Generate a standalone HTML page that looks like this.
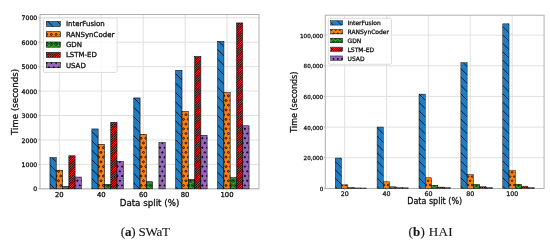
<!DOCTYPE html>
<html lang="en"><head><meta charset="utf-8"><title>Figure</title>
<style>html,body{margin:0;padding:0;background:#fff;overflow:hidden}svg{display:block}</style></head>
<body>
<svg width="550" height="244" viewBox="0 0 550 244">
<rect width="550" height="244" fill="#fff"/>
<defs><linearGradient id="gra" gradientUnits="userSpaceOnUse" spreadMethod="repeat" x1="4.2" y1="6.1" x2="5.3800" y2="7.2800"><stop offset="0.0000" stop-color="#180303"/><stop offset="0.0625" stop-color="#210404"/><stop offset="0.1250" stop-color="#3b0707"/><stop offset="0.1875" stop-color="#610b0b"/><stop offset="0.2500" stop-color="#8e1010"/><stop offset="0.3125" stop-color="#ba1515"/><stop offset="0.3750" stop-color="#e01a1a"/><stop offset="0.4375" stop-color="#f41c1c"/><stop offset="0.5000" stop-color="#f41c1c"/><stop offset="0.5625" stop-color="#f41c1c"/><stop offset="0.6250" stop-color="#e01a1a"/><stop offset="0.6875" stop-color="#ba1515"/><stop offset="0.7500" stop-color="#8e1010"/><stop offset="0.8125" stop-color="#610b0b"/><stop offset="0.8750" stop-color="#3b0707"/><stop offset="0.9375" stop-color="#210404"/><stop offset="1.0000" stop-color="#180303"/></linearGradient></defs>
<g font-family="'DejaVu Sans', 'Liberation Sans', sans-serif" fill="#111" stroke="#111" stroke-width="0.3">
<path d="M59.39,14.5V188.8M101.3,14.5V188.8M143.21,14.5V188.8M185.13,14.5V188.8M227.04,14.5V188.8M40,188.8H259M40,164.37H259M40,139.94H259M40,115.51H259M40,91.08H259M40,66.65H259M40,42.22H259M40,17.79H259" stroke="#dcdcdc" stroke-width="0.9" fill="none"/>
<rect x="40" y="14.5" width="219" height="174.3" fill="none" stroke="#b0b0b0" stroke-width="1"/>
<clipPath id="caIF4"><rect x="49.95" y="157.65" width="6.29" height="31.15"/><rect x="91.87" y="128.95" width="6.29" height="59.85"/><rect x="133.78" y="97.92" width="6.29" height="90.88"/><rect x="175.7" y="70.31" width="6.29" height="118.49"/><rect x="217.61" y="41.49" width="6.29" height="147.31"/></clipPath><g clip-path="url(#caIF4)"><rect x="49.95" y="157.65" width="6.29" height="31.15" fill="#1f7dc4" stroke="none"/><rect x="91.87" y="128.95" width="6.29" height="59.85" fill="#1f7dc4" stroke="none"/><rect x="133.78" y="97.92" width="6.29" height="90.88" fill="#1f7dc4" stroke="none"/><rect x="175.7" y="70.31" width="6.29" height="118.49" fill="#1f7dc4" stroke="none"/><rect x="217.61" y="41.49" width="6.29" height="147.31" fill="#1f7dc4" stroke="none"/><path d="M48.95,154.69L57.24,162.98M48.95,164.13L57.24,172.42M48.95,173.57L57.24,181.86M48.95,183.01L57.24,191.3M90.87,121.09L99.16,129.38M90.87,130.53L99.16,138.82M90.87,139.97L99.16,148.26M90.87,149.41L99.16,157.7M90.87,158.85L99.16,167.14M90.87,168.29L99.16,176.58M90.87,177.73L99.16,186.02M90.87,187.17L99.16,195.46M132.78,96.92L141.07,105.21M132.78,106.36L141.07,114.65M132.78,115.8L141.07,124.09M132.78,125.24L141.07,133.53M132.78,134.68L141.07,142.97M132.78,144.12L141.07,152.41M132.78,153.56L141.07,161.85M132.78,163L141.07,171.29M132.78,172.44L141.07,180.73M132.78,181.88L141.07,190.17M174.7,63.32L182.98,71.6M174.7,72.76L182.98,81.04M174.7,82.2L182.98,90.48M174.7,91.64L182.98,99.92M174.7,101.08L182.98,109.36M174.7,110.52L182.98,118.8M174.7,119.96L182.98,128.24M174.7,129.4L182.98,137.68M174.7,138.84L182.98,147.12M174.7,148.28L182.98,156.56M174.7,157.72L182.98,166M174.7,167.16L182.98,175.44M174.7,176.6L182.98,184.88M174.7,186.04L182.98,194.32M216.61,39.15L224.9,47.44M216.61,48.59L224.9,56.88M216.61,58.03L224.9,66.32M216.61,67.47L224.9,75.76M216.61,76.91L224.9,85.2M216.61,86.35L224.9,94.64M216.61,95.79L224.9,104.08M216.61,105.23L224.9,113.52M216.61,114.67L224.9,122.96M216.61,124.11L224.9,132.4M216.61,133.55L224.9,141.84M216.61,142.99L224.9,151.28M216.61,152.43L224.9,160.72M216.61,161.87L224.9,170.16M216.61,171.31L224.9,179.6M216.61,180.75L224.9,189.04" stroke="#000" stroke-width="0.85" fill="none"/></g><rect x="49.95" y="157.65" width="6.29" height="31.15" fill="none" stroke="#000" stroke-width="0.6"/><rect x="91.87" y="128.95" width="6.29" height="59.85" fill="none" stroke="#000" stroke-width="0.6"/><rect x="133.78" y="97.92" width="6.29" height="90.88" fill="none" stroke="#000" stroke-width="0.6"/><rect x="175.7" y="70.31" width="6.29" height="118.49" fill="none" stroke="#000" stroke-width="0.6"/><rect x="217.61" y="41.49" width="6.29" height="147.31" fill="none" stroke="#000" stroke-width="0.6"/>
<clipPath id="caRAN5"><rect x="56.24" y="170.23" width="6.29" height="18.57"/><rect x="98.16" y="144.34" width="6.29" height="44.46"/><rect x="140.07" y="134.32" width="6.29" height="54.48"/><rect x="181.98" y="111.6" width="6.29" height="77.2"/><rect x="223.9" y="92.69" width="6.29" height="96.11"/></clipPath><g clip-path="url(#caRAN5)"><rect x="56.24" y="170.23" width="6.29" height="18.57" fill="#ff7f0e" stroke="none"/><rect x="98.16" y="144.34" width="6.29" height="44.46" fill="#ff7f0e" stroke="none"/><rect x="140.07" y="134.32" width="6.29" height="54.48" fill="#ff7f0e" stroke="none"/><rect x="181.98" y="111.6" width="6.29" height="77.2" fill="#ff7f0e" stroke="none"/><rect x="223.9" y="92.69" width="6.29" height="96.11" fill="#ff7f0e" stroke="none"/><g stroke="#000"><circle cx="53.76" cy="171.3" r="0.94" fill="none" stroke-width="0.85"/><circle cx="58.48" cy="171.3" r="0.94" fill="none" stroke-width="0.85"/><circle cx="63.2" cy="171.3" r="0.94" fill="none" stroke-width="0.85"/><circle cx="56.12" cy="176.02" r="0.94" fill="none" stroke-width="0.85"/><circle cx="60.84" cy="176.02" r="0.94" fill="none" stroke-width="0.85"/><circle cx="53.76" cy="180.74" r="0.94" fill="none" stroke-width="0.85"/><circle cx="58.48" cy="180.74" r="0.94" fill="none" stroke-width="0.85"/><circle cx="63.2" cy="180.74" r="0.94" fill="none" stroke-width="0.85"/><circle cx="56.12" cy="185.46" r="0.94" fill="none" stroke-width="0.85"/><circle cx="60.84" cy="185.46" r="0.94" fill="none" stroke-width="0.85"/><circle cx="53.76" cy="190.18" r="0.94" fill="none" stroke-width="0.85"/><circle cx="58.48" cy="190.18" r="0.94" fill="none" stroke-width="0.85"/><circle cx="63.2" cy="190.18" r="0.94" fill="none" stroke-width="0.85"/><circle cx="96.24" cy="142.98" r="0.94" fill="none" stroke-width="0.85"/><circle cx="100.96" cy="142.98" r="0.94" fill="none" stroke-width="0.85"/><circle cx="105.68" cy="142.98" r="0.94" fill="none" stroke-width="0.85"/><circle cx="98.6" cy="147.7" r="0.94" fill="none" stroke-width="0.85"/><circle cx="103.32" cy="147.7" r="0.94" fill="none" stroke-width="0.85"/><circle cx="96.24" cy="152.42" r="0.94" fill="none" stroke-width="0.85"/><circle cx="100.96" cy="152.42" r="0.94" fill="none" stroke-width="0.85"/><circle cx="105.68" cy="152.42" r="0.94" fill="none" stroke-width="0.85"/><circle cx="98.6" cy="157.14" r="0.94" fill="none" stroke-width="0.85"/><circle cx="103.32" cy="157.14" r="0.94" fill="none" stroke-width="0.85"/><circle cx="96.24" cy="161.86" r="0.94" fill="none" stroke-width="0.85"/><circle cx="100.96" cy="161.86" r="0.94" fill="none" stroke-width="0.85"/><circle cx="105.68" cy="161.86" r="0.94" fill="none" stroke-width="0.85"/><circle cx="98.6" cy="166.58" r="0.94" fill="none" stroke-width="0.85"/><circle cx="103.32" cy="166.58" r="0.94" fill="none" stroke-width="0.85"/><circle cx="96.24" cy="171.3" r="0.94" fill="none" stroke-width="0.85"/><circle cx="100.96" cy="171.3" r="0.94" fill="none" stroke-width="0.85"/><circle cx="105.68" cy="171.3" r="0.94" fill="none" stroke-width="0.85"/><circle cx="98.6" cy="176.02" r="0.94" fill="none" stroke-width="0.85"/><circle cx="103.32" cy="176.02" r="0.94" fill="none" stroke-width="0.85"/><circle cx="96.24" cy="180.74" r="0.94" fill="none" stroke-width="0.85"/><circle cx="100.96" cy="180.74" r="0.94" fill="none" stroke-width="0.85"/><circle cx="105.68" cy="180.74" r="0.94" fill="none" stroke-width="0.85"/><circle cx="98.6" cy="185.46" r="0.94" fill="none" stroke-width="0.85"/><circle cx="103.32" cy="185.46" r="0.94" fill="none" stroke-width="0.85"/><circle cx="96.24" cy="190.18" r="0.94" fill="none" stroke-width="0.85"/><circle cx="100.96" cy="190.18" r="0.94" fill="none" stroke-width="0.85"/><circle cx="105.68" cy="190.18" r="0.94" fill="none" stroke-width="0.85"/><circle cx="138.72" cy="133.54" r="0.94" fill="none" stroke-width="0.85"/><circle cx="143.44" cy="133.54" r="0.94" fill="none" stroke-width="0.85"/><circle cx="148.16" cy="133.54" r="0.94" fill="none" stroke-width="0.85"/><circle cx="141.08" cy="138.26" r="0.94" fill="none" stroke-width="0.85"/><circle cx="145.8" cy="138.26" r="0.94" fill="none" stroke-width="0.85"/><circle cx="138.72" cy="142.98" r="0.94" fill="none" stroke-width="0.85"/><circle cx="143.44" cy="142.98" r="0.94" fill="none" stroke-width="0.85"/><circle cx="148.16" cy="142.98" r="0.94" fill="none" stroke-width="0.85"/><circle cx="141.08" cy="147.7" r="0.94" fill="none" stroke-width="0.85"/><circle cx="145.8" cy="147.7" r="0.94" fill="none" stroke-width="0.85"/><circle cx="138.72" cy="152.42" r="0.94" fill="none" stroke-width="0.85"/><circle cx="143.44" cy="152.42" r="0.94" fill="none" stroke-width="0.85"/><circle cx="148.16" cy="152.42" r="0.94" fill="none" stroke-width="0.85"/><circle cx="141.08" cy="157.14" r="0.94" fill="none" stroke-width="0.85"/><circle cx="145.8" cy="157.14" r="0.94" fill="none" stroke-width="0.85"/><circle cx="138.72" cy="161.86" r="0.94" fill="none" stroke-width="0.85"/><circle cx="143.44" cy="161.86" r="0.94" fill="none" stroke-width="0.85"/><circle cx="148.16" cy="161.86" r="0.94" fill="none" stroke-width="0.85"/><circle cx="141.08" cy="166.58" r="0.94" fill="none" stroke-width="0.85"/><circle cx="145.8" cy="166.58" r="0.94" fill="none" stroke-width="0.85"/><circle cx="138.72" cy="171.3" r="0.94" fill="none" stroke-width="0.85"/><circle cx="143.44" cy="171.3" r="0.94" fill="none" stroke-width="0.85"/><circle cx="148.16" cy="171.3" r="0.94" fill="none" stroke-width="0.85"/><circle cx="141.08" cy="176.02" r="0.94" fill="none" stroke-width="0.85"/><circle cx="145.8" cy="176.02" r="0.94" fill="none" stroke-width="0.85"/><circle cx="138.72" cy="180.74" r="0.94" fill="none" stroke-width="0.85"/><circle cx="143.44" cy="180.74" r="0.94" fill="none" stroke-width="0.85"/><circle cx="148.16" cy="180.74" r="0.94" fill="none" stroke-width="0.85"/><circle cx="141.08" cy="185.46" r="0.94" fill="none" stroke-width="0.85"/><circle cx="145.8" cy="185.46" r="0.94" fill="none" stroke-width="0.85"/><circle cx="138.72" cy="190.18" r="0.94" fill="none" stroke-width="0.85"/><circle cx="143.44" cy="190.18" r="0.94" fill="none" stroke-width="0.85"/><circle cx="148.16" cy="190.18" r="0.94" fill="none" stroke-width="0.85"/><circle cx="183.56" cy="109.94" r="0.94" fill="none" stroke-width="0.85"/><circle cx="188.28" cy="109.94" r="0.94" fill="none" stroke-width="0.85"/><circle cx="181.2" cy="114.66" r="0.94" fill="none" stroke-width="0.85"/><circle cx="185.92" cy="114.66" r="0.94" fill="none" stroke-width="0.85"/><circle cx="190.64" cy="114.66" r="0.94" fill="none" stroke-width="0.85"/><circle cx="183.56" cy="119.38" r="0.94" fill="none" stroke-width="0.85"/><circle cx="188.28" cy="119.38" r="0.94" fill="none" stroke-width="0.85"/><circle cx="181.2" cy="124.1" r="0.94" fill="none" stroke-width="0.85"/><circle cx="185.92" cy="124.1" r="0.94" fill="none" stroke-width="0.85"/><circle cx="190.64" cy="124.1" r="0.94" fill="none" stroke-width="0.85"/><circle cx="183.56" cy="128.82" r="0.94" fill="none" stroke-width="0.85"/><circle cx="188.28" cy="128.82" r="0.94" fill="none" stroke-width="0.85"/><circle cx="181.2" cy="133.54" r="0.94" fill="none" stroke-width="0.85"/><circle cx="185.92" cy="133.54" r="0.94" fill="none" stroke-width="0.85"/><circle cx="190.64" cy="133.54" r="0.94" fill="none" stroke-width="0.85"/><circle cx="183.56" cy="138.26" r="0.94" fill="none" stroke-width="0.85"/><circle cx="188.28" cy="138.26" r="0.94" fill="none" stroke-width="0.85"/><circle cx="181.2" cy="142.98" r="0.94" fill="none" stroke-width="0.85"/><circle cx="185.92" cy="142.98" r="0.94" fill="none" stroke-width="0.85"/><circle cx="190.64" cy="142.98" r="0.94" fill="none" stroke-width="0.85"/><circle cx="183.56" cy="147.7" r="0.94" fill="none" stroke-width="0.85"/><circle cx="188.28" cy="147.7" r="0.94" fill="none" stroke-width="0.85"/><circle cx="181.2" cy="152.42" r="0.94" fill="none" stroke-width="0.85"/><circle cx="185.92" cy="152.42" r="0.94" fill="none" stroke-width="0.85"/><circle cx="190.64" cy="152.42" r="0.94" fill="none" stroke-width="0.85"/><circle cx="183.56" cy="157.14" r="0.94" fill="none" stroke-width="0.85"/><circle cx="188.28" cy="157.14" r="0.94" fill="none" stroke-width="0.85"/><circle cx="181.2" cy="161.86" r="0.94" fill="none" stroke-width="0.85"/><circle cx="185.92" cy="161.86" r="0.94" fill="none" stroke-width="0.85"/><circle cx="190.64" cy="161.86" r="0.94" fill="none" stroke-width="0.85"/><circle cx="183.56" cy="166.58" r="0.94" fill="none" stroke-width="0.85"/><circle cx="188.28" cy="166.58" r="0.94" fill="none" stroke-width="0.85"/><circle cx="181.2" cy="171.3" r="0.94" fill="none" stroke-width="0.85"/><circle cx="185.92" cy="171.3" r="0.94" fill="none" stroke-width="0.85"/><circle cx="190.64" cy="171.3" r="0.94" fill="none" stroke-width="0.85"/><circle cx="183.56" cy="176.02" r="0.94" fill="none" stroke-width="0.85"/><circle cx="188.28" cy="176.02" r="0.94" fill="none" stroke-width="0.85"/><circle cx="181.2" cy="180.74" r="0.94" fill="none" stroke-width="0.85"/><circle cx="185.92" cy="180.74" r="0.94" fill="none" stroke-width="0.85"/><circle cx="190.64" cy="180.74" r="0.94" fill="none" stroke-width="0.85"/><circle cx="183.56" cy="185.46" r="0.94" fill="none" stroke-width="0.85"/><circle cx="188.28" cy="185.46" r="0.94" fill="none" stroke-width="0.85"/><circle cx="181.2" cy="190.18" r="0.94" fill="none" stroke-width="0.85"/><circle cx="185.92" cy="190.18" r="0.94" fill="none" stroke-width="0.85"/><circle cx="190.64" cy="190.18" r="0.94" fill="none" stroke-width="0.85"/><circle cx="221.32" cy="91.06" r="0.94" fill="none" stroke-width="0.85"/><circle cx="226.04" cy="91.06" r="0.94" fill="none" stroke-width="0.85"/><circle cx="230.76" cy="91.06" r="0.94" fill="none" stroke-width="0.85"/><circle cx="223.68" cy="95.78" r="0.94" fill="none" stroke-width="0.85"/><circle cx="228.4" cy="95.78" r="0.94" fill="none" stroke-width="0.85"/><circle cx="221.32" cy="100.5" r="0.94" fill="none" stroke-width="0.85"/><circle cx="226.04" cy="100.5" r="0.94" fill="none" stroke-width="0.85"/><circle cx="230.76" cy="100.5" r="0.94" fill="none" stroke-width="0.85"/><circle cx="223.68" cy="105.22" r="0.94" fill="none" stroke-width="0.85"/><circle cx="228.4" cy="105.22" r="0.94" fill="none" stroke-width="0.85"/><circle cx="221.32" cy="109.94" r="0.94" fill="none" stroke-width="0.85"/><circle cx="226.04" cy="109.94" r="0.94" fill="none" stroke-width="0.85"/><circle cx="230.76" cy="109.94" r="0.94" fill="none" stroke-width="0.85"/><circle cx="223.68" cy="114.66" r="0.94" fill="none" stroke-width="0.85"/><circle cx="228.4" cy="114.66" r="0.94" fill="none" stroke-width="0.85"/><circle cx="221.32" cy="119.38" r="0.94" fill="none" stroke-width="0.85"/><circle cx="226.04" cy="119.38" r="0.94" fill="none" stroke-width="0.85"/><circle cx="230.76" cy="119.38" r="0.94" fill="none" stroke-width="0.85"/><circle cx="223.68" cy="124.1" r="0.94" fill="none" stroke-width="0.85"/><circle cx="228.4" cy="124.1" r="0.94" fill="none" stroke-width="0.85"/><circle cx="221.32" cy="128.82" r="0.94" fill="none" stroke-width="0.85"/><circle cx="226.04" cy="128.82" r="0.94" fill="none" stroke-width="0.85"/><circle cx="230.76" cy="128.82" r="0.94" fill="none" stroke-width="0.85"/><circle cx="223.68" cy="133.54" r="0.94" fill="none" stroke-width="0.85"/><circle cx="228.4" cy="133.54" r="0.94" fill="none" stroke-width="0.85"/><circle cx="221.32" cy="138.26" r="0.94" fill="none" stroke-width="0.85"/><circle cx="226.04" cy="138.26" r="0.94" fill="none" stroke-width="0.85"/><circle cx="230.76" cy="138.26" r="0.94" fill="none" stroke-width="0.85"/><circle cx="223.68" cy="142.98" r="0.94" fill="none" stroke-width="0.85"/><circle cx="228.4" cy="142.98" r="0.94" fill="none" stroke-width="0.85"/><circle cx="221.32" cy="147.7" r="0.94" fill="none" stroke-width="0.85"/><circle cx="226.04" cy="147.7" r="0.94" fill="none" stroke-width="0.85"/><circle cx="230.76" cy="147.7" r="0.94" fill="none" stroke-width="0.85"/><circle cx="223.68" cy="152.42" r="0.94" fill="none" stroke-width="0.85"/><circle cx="228.4" cy="152.42" r="0.94" fill="none" stroke-width="0.85"/><circle cx="221.32" cy="157.14" r="0.94" fill="none" stroke-width="0.85"/><circle cx="226.04" cy="157.14" r="0.94" fill="none" stroke-width="0.85"/><circle cx="230.76" cy="157.14" r="0.94" fill="none" stroke-width="0.85"/><circle cx="223.68" cy="161.86" r="0.94" fill="none" stroke-width="0.85"/><circle cx="228.4" cy="161.86" r="0.94" fill="none" stroke-width="0.85"/><circle cx="221.32" cy="166.58" r="0.94" fill="none" stroke-width="0.85"/><circle cx="226.04" cy="166.58" r="0.94" fill="none" stroke-width="0.85"/><circle cx="230.76" cy="166.58" r="0.94" fill="none" stroke-width="0.85"/><circle cx="223.68" cy="171.3" r="0.94" fill="none" stroke-width="0.85"/><circle cx="228.4" cy="171.3" r="0.94" fill="none" stroke-width="0.85"/><circle cx="221.32" cy="176.02" r="0.94" fill="none" stroke-width="0.85"/><circle cx="226.04" cy="176.02" r="0.94" fill="none" stroke-width="0.85"/><circle cx="230.76" cy="176.02" r="0.94" fill="none" stroke-width="0.85"/><circle cx="223.68" cy="180.74" r="0.94" fill="none" stroke-width="0.85"/><circle cx="228.4" cy="180.74" r="0.94" fill="none" stroke-width="0.85"/><circle cx="221.32" cy="185.46" r="0.94" fill="none" stroke-width="0.85"/><circle cx="226.04" cy="185.46" r="0.94" fill="none" stroke-width="0.85"/><circle cx="230.76" cy="185.46" r="0.94" fill="none" stroke-width="0.85"/><circle cx="223.68" cy="190.18" r="0.94" fill="none" stroke-width="0.85"/><circle cx="228.4" cy="190.18" r="0.94" fill="none" stroke-width="0.85"/></g></g><rect x="56.24" y="170.23" width="6.29" height="18.57" fill="none" stroke="#000" stroke-width="0.6"/><rect x="98.16" y="144.34" width="6.29" height="44.46" fill="none" stroke="#000" stroke-width="0.6"/><rect x="140.07" y="134.32" width="6.29" height="54.48" fill="none" stroke="#000" stroke-width="0.6"/><rect x="181.98" y="111.6" width="6.29" height="77.2" fill="none" stroke="#000" stroke-width="0.6"/><rect x="223.9" y="92.69" width="6.29" height="96.11" fill="none" stroke="#000" stroke-width="0.6"/>
<clipPath id="caGDN6"><rect x="62.53" y="186.6" width="6.29" height="2.2"/><rect x="104.44" y="184.4" width="6.29" height="4.4"/><rect x="146.36" y="181.72" width="6.29" height="7.08"/><rect x="188.27" y="179.52" width="6.29" height="9.28"/><rect x="230.18" y="177.68" width="6.29" height="11.12"/></clipPath><g clip-path="url(#caGDN6)"><rect x="62.53" y="186.6" width="6.29" height="2.2" fill="#2eaa2e" stroke="none"/><rect x="104.44" y="184.4" width="6.29" height="4.4" fill="#2eaa2e" stroke="none"/><rect x="146.36" y="181.72" width="6.29" height="7.08" fill="#2eaa2e" stroke="none"/><rect x="188.27" y="179.52" width="6.29" height="9.28" fill="#2eaa2e" stroke="none"/><rect x="230.18" y="177.68" width="6.29" height="11.12" fill="#2eaa2e" stroke="none"/><g stroke="#000"><circle cx="60.84" cy="185.46" r="1.65" fill="none" stroke-width="0.59"/><circle cx="60.84" cy="185.46" r="0.47" fill="#000" stroke-width="0.59"/><circle cx="65.56" cy="185.46" r="1.65" fill="none" stroke-width="0.59"/><circle cx="65.56" cy="185.46" r="0.47" fill="#000" stroke-width="0.59"/><circle cx="70.28" cy="185.46" r="1.65" fill="none" stroke-width="0.59"/><circle cx="70.28" cy="185.46" r="0.47" fill="#000" stroke-width="0.59"/><circle cx="63.2" cy="190.18" r="1.65" fill="none" stroke-width="0.59"/><circle cx="63.2" cy="190.18" r="0.47" fill="#000" stroke-width="0.59"/><circle cx="67.92" cy="190.18" r="1.65" fill="none" stroke-width="0.59"/><circle cx="67.92" cy="190.18" r="0.47" fill="#000" stroke-width="0.59"/><circle cx="103.32" cy="185.46" r="1.65" fill="none" stroke-width="0.59"/><circle cx="103.32" cy="185.46" r="0.47" fill="#000" stroke-width="0.59"/><circle cx="108.04" cy="185.46" r="1.65" fill="none" stroke-width="0.59"/><circle cx="108.04" cy="185.46" r="0.47" fill="#000" stroke-width="0.59"/><circle cx="112.76" cy="185.46" r="1.65" fill="none" stroke-width="0.59"/><circle cx="112.76" cy="185.46" r="0.47" fill="#000" stroke-width="0.59"/><circle cx="105.68" cy="190.18" r="1.65" fill="none" stroke-width="0.59"/><circle cx="105.68" cy="190.18" r="0.47" fill="#000" stroke-width="0.59"/><circle cx="110.4" cy="190.18" r="1.65" fill="none" stroke-width="0.59"/><circle cx="110.4" cy="190.18" r="0.47" fill="#000" stroke-width="0.59"/><circle cx="148.16" cy="180.74" r="1.65" fill="none" stroke-width="0.59"/><circle cx="148.16" cy="180.74" r="0.47" fill="#000" stroke-width="0.59"/><circle cx="152.88" cy="180.74" r="1.65" fill="none" stroke-width="0.59"/><circle cx="152.88" cy="180.74" r="0.47" fill="#000" stroke-width="0.59"/><circle cx="145.8" cy="185.46" r="1.65" fill="none" stroke-width="0.59"/><circle cx="145.8" cy="185.46" r="0.47" fill="#000" stroke-width="0.59"/><circle cx="150.52" cy="185.46" r="1.65" fill="none" stroke-width="0.59"/><circle cx="150.52" cy="185.46" r="0.47" fill="#000" stroke-width="0.59"/><circle cx="155.24" cy="185.46" r="1.65" fill="none" stroke-width="0.59"/><circle cx="155.24" cy="185.46" r="0.47" fill="#000" stroke-width="0.59"/><circle cx="148.16" cy="190.18" r="1.65" fill="none" stroke-width="0.59"/><circle cx="148.16" cy="190.18" r="0.47" fill="#000" stroke-width="0.59"/><circle cx="152.88" cy="190.18" r="1.65" fill="none" stroke-width="0.59"/><circle cx="152.88" cy="190.18" r="0.47" fill="#000" stroke-width="0.59"/><circle cx="185.92" cy="180.74" r="1.65" fill="none" stroke-width="0.59"/><circle cx="185.92" cy="180.74" r="0.47" fill="#000" stroke-width="0.59"/><circle cx="190.64" cy="180.74" r="1.65" fill="none" stroke-width="0.59"/><circle cx="190.64" cy="180.74" r="0.47" fill="#000" stroke-width="0.59"/><circle cx="195.36" cy="180.74" r="1.65" fill="none" stroke-width="0.59"/><circle cx="195.36" cy="180.74" r="0.47" fill="#000" stroke-width="0.59"/><circle cx="188.28" cy="185.46" r="1.65" fill="none" stroke-width="0.59"/><circle cx="188.28" cy="185.46" r="0.47" fill="#000" stroke-width="0.59"/><circle cx="193" cy="185.46" r="1.65" fill="none" stroke-width="0.59"/><circle cx="193" cy="185.46" r="0.47" fill="#000" stroke-width="0.59"/><circle cx="185.92" cy="190.18" r="1.65" fill="none" stroke-width="0.59"/><circle cx="185.92" cy="190.18" r="0.47" fill="#000" stroke-width="0.59"/><circle cx="190.64" cy="190.18" r="1.65" fill="none" stroke-width="0.59"/><circle cx="190.64" cy="190.18" r="0.47" fill="#000" stroke-width="0.59"/><circle cx="195.36" cy="190.18" r="1.65" fill="none" stroke-width="0.59"/><circle cx="195.36" cy="190.18" r="0.47" fill="#000" stroke-width="0.59"/><circle cx="230.76" cy="176.02" r="1.65" fill="none" stroke-width="0.59"/><circle cx="230.76" cy="176.02" r="0.47" fill="#000" stroke-width="0.59"/><circle cx="235.48" cy="176.02" r="1.65" fill="none" stroke-width="0.59"/><circle cx="235.48" cy="176.02" r="0.47" fill="#000" stroke-width="0.59"/><circle cx="228.4" cy="180.74" r="1.65" fill="none" stroke-width="0.59"/><circle cx="228.4" cy="180.74" r="0.47" fill="#000" stroke-width="0.59"/><circle cx="233.12" cy="180.74" r="1.65" fill="none" stroke-width="0.59"/><circle cx="233.12" cy="180.74" r="0.47" fill="#000" stroke-width="0.59"/><circle cx="237.84" cy="180.74" r="1.65" fill="none" stroke-width="0.59"/><circle cx="237.84" cy="180.74" r="0.47" fill="#000" stroke-width="0.59"/><circle cx="230.76" cy="185.46" r="1.65" fill="none" stroke-width="0.59"/><circle cx="230.76" cy="185.46" r="0.47" fill="#000" stroke-width="0.59"/><circle cx="235.48" cy="185.46" r="1.65" fill="none" stroke-width="0.59"/><circle cx="235.48" cy="185.46" r="0.47" fill="#000" stroke-width="0.59"/><circle cx="228.4" cy="190.18" r="1.65" fill="none" stroke-width="0.59"/><circle cx="228.4" cy="190.18" r="0.47" fill="#000" stroke-width="0.59"/><circle cx="233.12" cy="190.18" r="1.65" fill="none" stroke-width="0.59"/><circle cx="233.12" cy="190.18" r="0.47" fill="#000" stroke-width="0.59"/><circle cx="237.84" cy="190.18" r="1.65" fill="none" stroke-width="0.59"/><circle cx="237.84" cy="190.18" r="0.47" fill="#000" stroke-width="0.59"/></g></g><rect x="62.53" y="186.6" width="6.29" height="2.2" fill="none" stroke="#000" stroke-width="0.6"/><rect x="104.44" y="184.4" width="6.29" height="4.4" fill="none" stroke="#000" stroke-width="0.6"/><rect x="146.36" y="181.72" width="6.29" height="7.08" fill="none" stroke="#000" stroke-width="0.6"/><rect x="188.27" y="179.52" width="6.29" height="9.28" fill="none" stroke="#000" stroke-width="0.6"/><rect x="230.18" y="177.68" width="6.29" height="11.12" fill="none" stroke="#000" stroke-width="0.6"/>
<clipPath id="caLSTM7"><rect x="68.82" y="155.77" width="6.29" height="33.03"/><rect x="110.73" y="122.35" width="6.29" height="66.45"/><rect x="194.56" y="56.39" width="6.29" height="132.41"/><rect x="236.47" y="22.92" width="6.29" height="165.88"/></clipPath><g clip-path="url(#caLSTM7)"><rect x="68.82" y="155.77" width="6.29" height="33.03" fill="url(#gra)" stroke="none"/><rect x="110.73" y="122.35" width="6.29" height="66.45" fill="url(#gra)" stroke="none"/><rect x="194.56" y="56.39" width="6.29" height="132.41" fill="url(#gra)" stroke="none"/><rect x="236.47" y="22.92" width="6.29" height="165.88" fill="url(#gra)" stroke="none"/></g><rect x="68.82" y="155.77" width="6.29" height="33.03" fill="none" stroke="#000" stroke-width="0.6"/><rect x="110.73" y="122.35" width="6.29" height="66.45" fill="none" stroke="#000" stroke-width="0.6"/><rect x="194.56" y="56.39" width="6.29" height="132.41" fill="none" stroke="#000" stroke-width="0.6"/><rect x="236.47" y="22.92" width="6.29" height="165.88" fill="none" stroke="#000" stroke-width="0.6"/>
<clipPath id="caUSAD8"><rect x="75.1" y="177.07" width="6.29" height="11.73"/><rect x="117.02" y="161.44" width="6.29" height="27.36"/><rect x="158.93" y="142.63" width="6.29" height="46.17"/><rect x="200.84" y="135.3" width="6.29" height="53.5"/><rect x="242.76" y="125.77" width="6.29" height="63.03"/></clipPath><g clip-path="url(#caUSAD8)"><rect x="75.1" y="177.07" width="6.29" height="11.73" fill="#9467bd" stroke="none"/><rect x="117.02" y="161.44" width="6.29" height="27.36" fill="#9467bd" stroke="none"/><rect x="158.93" y="142.63" width="6.29" height="46.17" fill="#9467bd" stroke="none"/><rect x="200.84" y="135.3" width="6.29" height="53.5" fill="#9467bd" stroke="none"/><rect x="242.76" y="125.77" width="6.29" height="63.03" fill="#9467bd" stroke="none"/><g stroke="#000"><circle cx="75" cy="176.02" r="0.66" fill="#000" stroke-width="0.85"/><circle cx="79.72" cy="176.02" r="0.66" fill="#000" stroke-width="0.85"/><circle cx="72.64" cy="180.74" r="0.66" fill="#000" stroke-width="0.85"/><circle cx="77.36" cy="180.74" r="0.66" fill="#000" stroke-width="0.85"/><circle cx="82.08" cy="180.74" r="0.66" fill="#000" stroke-width="0.85"/><circle cx="75" cy="185.46" r="0.66" fill="#000" stroke-width="0.85"/><circle cx="79.72" cy="185.46" r="0.66" fill="#000" stroke-width="0.85"/><circle cx="72.64" cy="190.18" r="0.66" fill="#000" stroke-width="0.85"/><circle cx="77.36" cy="190.18" r="0.66" fill="#000" stroke-width="0.85"/><circle cx="82.08" cy="190.18" r="0.66" fill="#000" stroke-width="0.85"/><circle cx="115.12" cy="161.86" r="0.66" fill="#000" stroke-width="0.85"/><circle cx="119.84" cy="161.86" r="0.66" fill="#000" stroke-width="0.85"/><circle cx="124.56" cy="161.86" r="0.66" fill="#000" stroke-width="0.85"/><circle cx="117.48" cy="166.58" r="0.66" fill="#000" stroke-width="0.85"/><circle cx="122.2" cy="166.58" r="0.66" fill="#000" stroke-width="0.85"/><circle cx="115.12" cy="171.3" r="0.66" fill="#000" stroke-width="0.85"/><circle cx="119.84" cy="171.3" r="0.66" fill="#000" stroke-width="0.85"/><circle cx="124.56" cy="171.3" r="0.66" fill="#000" stroke-width="0.85"/><circle cx="117.48" cy="176.02" r="0.66" fill="#000" stroke-width="0.85"/><circle cx="122.2" cy="176.02" r="0.66" fill="#000" stroke-width="0.85"/><circle cx="115.12" cy="180.74" r="0.66" fill="#000" stroke-width="0.85"/><circle cx="119.84" cy="180.74" r="0.66" fill="#000" stroke-width="0.85"/><circle cx="124.56" cy="180.74" r="0.66" fill="#000" stroke-width="0.85"/><circle cx="117.48" cy="185.46" r="0.66" fill="#000" stroke-width="0.85"/><circle cx="122.2" cy="185.46" r="0.66" fill="#000" stroke-width="0.85"/><circle cx="115.12" cy="190.18" r="0.66" fill="#000" stroke-width="0.85"/><circle cx="119.84" cy="190.18" r="0.66" fill="#000" stroke-width="0.85"/><circle cx="124.56" cy="190.18" r="0.66" fill="#000" stroke-width="0.85"/><circle cx="157.6" cy="142.98" r="0.66" fill="#000" stroke-width="0.85"/><circle cx="162.32" cy="142.98" r="0.66" fill="#000" stroke-width="0.85"/><circle cx="167.04" cy="142.98" r="0.66" fill="#000" stroke-width="0.85"/><circle cx="159.96" cy="147.7" r="0.66" fill="#000" stroke-width="0.85"/><circle cx="164.68" cy="147.7" r="0.66" fill="#000" stroke-width="0.85"/><circle cx="157.6" cy="152.42" r="0.66" fill="#000" stroke-width="0.85"/><circle cx="162.32" cy="152.42" r="0.66" fill="#000" stroke-width="0.85"/><circle cx="167.04" cy="152.42" r="0.66" fill="#000" stroke-width="0.85"/><circle cx="159.96" cy="157.14" r="0.66" fill="#000" stroke-width="0.85"/><circle cx="164.68" cy="157.14" r="0.66" fill="#000" stroke-width="0.85"/><circle cx="157.6" cy="161.86" r="0.66" fill="#000" stroke-width="0.85"/><circle cx="162.32" cy="161.86" r="0.66" fill="#000" stroke-width="0.85"/><circle cx="167.04" cy="161.86" r="0.66" fill="#000" stroke-width="0.85"/><circle cx="159.96" cy="166.58" r="0.66" fill="#000" stroke-width="0.85"/><circle cx="164.68" cy="166.58" r="0.66" fill="#000" stroke-width="0.85"/><circle cx="157.6" cy="171.3" r="0.66" fill="#000" stroke-width="0.85"/><circle cx="162.32" cy="171.3" r="0.66" fill="#000" stroke-width="0.85"/><circle cx="167.04" cy="171.3" r="0.66" fill="#000" stroke-width="0.85"/><circle cx="159.96" cy="176.02" r="0.66" fill="#000" stroke-width="0.85"/><circle cx="164.68" cy="176.02" r="0.66" fill="#000" stroke-width="0.85"/><circle cx="157.6" cy="180.74" r="0.66" fill="#000" stroke-width="0.85"/><circle cx="162.32" cy="180.74" r="0.66" fill="#000" stroke-width="0.85"/><circle cx="167.04" cy="180.74" r="0.66" fill="#000" stroke-width="0.85"/><circle cx="159.96" cy="185.46" r="0.66" fill="#000" stroke-width="0.85"/><circle cx="164.68" cy="185.46" r="0.66" fill="#000" stroke-width="0.85"/><circle cx="157.6" cy="190.18" r="0.66" fill="#000" stroke-width="0.85"/><circle cx="162.32" cy="190.18" r="0.66" fill="#000" stroke-width="0.85"/><circle cx="167.04" cy="190.18" r="0.66" fill="#000" stroke-width="0.85"/><circle cx="200.08" cy="133.54" r="0.66" fill="#000" stroke-width="0.85"/><circle cx="204.8" cy="133.54" r="0.66" fill="#000" stroke-width="0.85"/><circle cx="209.52" cy="133.54" r="0.66" fill="#000" stroke-width="0.85"/><circle cx="202.44" cy="138.26" r="0.66" fill="#000" stroke-width="0.85"/><circle cx="207.16" cy="138.26" r="0.66" fill="#000" stroke-width="0.85"/><circle cx="200.08" cy="142.98" r="0.66" fill="#000" stroke-width="0.85"/><circle cx="204.8" cy="142.98" r="0.66" fill="#000" stroke-width="0.85"/><circle cx="209.52" cy="142.98" r="0.66" fill="#000" stroke-width="0.85"/><circle cx="202.44" cy="147.7" r="0.66" fill="#000" stroke-width="0.85"/><circle cx="207.16" cy="147.7" r="0.66" fill="#000" stroke-width="0.85"/><circle cx="200.08" cy="152.42" r="0.66" fill="#000" stroke-width="0.85"/><circle cx="204.8" cy="152.42" r="0.66" fill="#000" stroke-width="0.85"/><circle cx="209.52" cy="152.42" r="0.66" fill="#000" stroke-width="0.85"/><circle cx="202.44" cy="157.14" r="0.66" fill="#000" stroke-width="0.85"/><circle cx="207.16" cy="157.14" r="0.66" fill="#000" stroke-width="0.85"/><circle cx="200.08" cy="161.86" r="0.66" fill="#000" stroke-width="0.85"/><circle cx="204.8" cy="161.86" r="0.66" fill="#000" stroke-width="0.85"/><circle cx="209.52" cy="161.86" r="0.66" fill="#000" stroke-width="0.85"/><circle cx="202.44" cy="166.58" r="0.66" fill="#000" stroke-width="0.85"/><circle cx="207.16" cy="166.58" r="0.66" fill="#000" stroke-width="0.85"/><circle cx="200.08" cy="171.3" r="0.66" fill="#000" stroke-width="0.85"/><circle cx="204.8" cy="171.3" r="0.66" fill="#000" stroke-width="0.85"/><circle cx="209.52" cy="171.3" r="0.66" fill="#000" stroke-width="0.85"/><circle cx="202.44" cy="176.02" r="0.66" fill="#000" stroke-width="0.85"/><circle cx="207.16" cy="176.02" r="0.66" fill="#000" stroke-width="0.85"/><circle cx="200.08" cy="180.74" r="0.66" fill="#000" stroke-width="0.85"/><circle cx="204.8" cy="180.74" r="0.66" fill="#000" stroke-width="0.85"/><circle cx="209.52" cy="180.74" r="0.66" fill="#000" stroke-width="0.85"/><circle cx="202.44" cy="185.46" r="0.66" fill="#000" stroke-width="0.85"/><circle cx="207.16" cy="185.46" r="0.66" fill="#000" stroke-width="0.85"/><circle cx="200.08" cy="190.18" r="0.66" fill="#000" stroke-width="0.85"/><circle cx="204.8" cy="190.18" r="0.66" fill="#000" stroke-width="0.85"/><circle cx="209.52" cy="190.18" r="0.66" fill="#000" stroke-width="0.85"/><circle cx="242.56" cy="124.1" r="0.66" fill="#000" stroke-width="0.85"/><circle cx="247.28" cy="124.1" r="0.66" fill="#000" stroke-width="0.85"/><circle cx="240.2" cy="128.82" r="0.66" fill="#000" stroke-width="0.85"/><circle cx="244.92" cy="128.82" r="0.66" fill="#000" stroke-width="0.85"/><circle cx="249.64" cy="128.82" r="0.66" fill="#000" stroke-width="0.85"/><circle cx="242.56" cy="133.54" r="0.66" fill="#000" stroke-width="0.85"/><circle cx="247.28" cy="133.54" r="0.66" fill="#000" stroke-width="0.85"/><circle cx="240.2" cy="138.26" r="0.66" fill="#000" stroke-width="0.85"/><circle cx="244.92" cy="138.26" r="0.66" fill="#000" stroke-width="0.85"/><circle cx="249.64" cy="138.26" r="0.66" fill="#000" stroke-width="0.85"/><circle cx="242.56" cy="142.98" r="0.66" fill="#000" stroke-width="0.85"/><circle cx="247.28" cy="142.98" r="0.66" fill="#000" stroke-width="0.85"/><circle cx="240.2" cy="147.7" r="0.66" fill="#000" stroke-width="0.85"/><circle cx="244.92" cy="147.7" r="0.66" fill="#000" stroke-width="0.85"/><circle cx="249.64" cy="147.7" r="0.66" fill="#000" stroke-width="0.85"/><circle cx="242.56" cy="152.42" r="0.66" fill="#000" stroke-width="0.85"/><circle cx="247.28" cy="152.42" r="0.66" fill="#000" stroke-width="0.85"/><circle cx="240.2" cy="157.14" r="0.66" fill="#000" stroke-width="0.85"/><circle cx="244.92" cy="157.14" r="0.66" fill="#000" stroke-width="0.85"/><circle cx="249.64" cy="157.14" r="0.66" fill="#000" stroke-width="0.85"/><circle cx="242.56" cy="161.86" r="0.66" fill="#000" stroke-width="0.85"/><circle cx="247.28" cy="161.86" r="0.66" fill="#000" stroke-width="0.85"/><circle cx="240.2" cy="166.58" r="0.66" fill="#000" stroke-width="0.85"/><circle cx="244.92" cy="166.58" r="0.66" fill="#000" stroke-width="0.85"/><circle cx="249.64" cy="166.58" r="0.66" fill="#000" stroke-width="0.85"/><circle cx="242.56" cy="171.3" r="0.66" fill="#000" stroke-width="0.85"/><circle cx="247.28" cy="171.3" r="0.66" fill="#000" stroke-width="0.85"/><circle cx="240.2" cy="176.02" r="0.66" fill="#000" stroke-width="0.85"/><circle cx="244.92" cy="176.02" r="0.66" fill="#000" stroke-width="0.85"/><circle cx="249.64" cy="176.02" r="0.66" fill="#000" stroke-width="0.85"/><circle cx="242.56" cy="180.74" r="0.66" fill="#000" stroke-width="0.85"/><circle cx="247.28" cy="180.74" r="0.66" fill="#000" stroke-width="0.85"/><circle cx="240.2" cy="185.46" r="0.66" fill="#000" stroke-width="0.85"/><circle cx="244.92" cy="185.46" r="0.66" fill="#000" stroke-width="0.85"/><circle cx="249.64" cy="185.46" r="0.66" fill="#000" stroke-width="0.85"/><circle cx="242.56" cy="190.18" r="0.66" fill="#000" stroke-width="0.85"/><circle cx="247.28" cy="190.18" r="0.66" fill="#000" stroke-width="0.85"/></g></g><rect x="75.1" y="177.07" width="6.29" height="11.73" fill="none" stroke="#000" stroke-width="0.6"/><rect x="117.02" y="161.44" width="6.29" height="27.36" fill="none" stroke="#000" stroke-width="0.6"/><rect x="158.93" y="142.63" width="6.29" height="46.17" fill="none" stroke="#000" stroke-width="0.6"/><rect x="200.84" y="135.3" width="6.29" height="53.5" fill="none" stroke="#000" stroke-width="0.6"/><rect x="242.76" y="125.77" width="6.29" height="63.03" fill="none" stroke="#000" stroke-width="0.6"/>
<path d="M59.39,188.8v1.6M101.3,188.8v1.6M143.21,188.8v1.6M185.13,188.8v1.6M227.04,188.8v1.6M40,188.8h-1.6M40,164.37h-1.6M40,139.94h-1.6M40,115.51h-1.6M40,91.08h-1.6M40,66.65h-1.6M40,42.22h-1.6M40,17.79h-1.6" stroke="#b0b0b0" stroke-width="0.9" fill="none"/>
<text x="59.39" y="197.2" font-size="6.8" text-anchor="middle">20</text>
<text x="101.3" y="197.2" font-size="6.8" text-anchor="middle">40</text>
<text x="143.21" y="197.2" font-size="6.8" text-anchor="middle">60</text>
<text x="185.13" y="197.2" font-size="6.8" text-anchor="middle">80</text>
<text x="227.04" y="197.2" font-size="6.8" text-anchor="middle">100</text>
<text x="37.3" y="191.46" font-size="6.2" text-anchor="end">0</text>
<text x="37.3" y="167.03" font-size="6.2" text-anchor="end">1000</text>
<text x="37.3" y="142.6" font-size="6.2" text-anchor="end">2000</text>
<text x="37.3" y="118.17" font-size="6.2" text-anchor="end">3000</text>
<text x="37.3" y="93.74" font-size="6.2" text-anchor="end">4000</text>
<text x="37.3" y="69.31" font-size="6.2" text-anchor="end">5000</text>
<text x="37.3" y="44.88" font-size="6.2" text-anchor="end">6000</text>
<text x="37.3" y="20.45" font-size="6.2" text-anchor="end">7000</text>
<text x="149.5" y="205.7" font-size="8.7" text-anchor="middle">Data split (%)</text>
<text transform="translate(17.6 101.95) rotate(-90)" font-size="8.7" text-anchor="middle">Time (seconds)</text>
<rect x="43.5" y="18" width="73.63" height="54.46" rx="1.4" fill="#fff" fill-opacity="0.8" stroke="#d4d4d4" stroke-width="0.8"/>
<clipPath id="caIFL26"><rect x="46.3" y="21.41" width="14" height="5.18"/></clipPath><g clip-path="url(#caIFL26)"><rect x="46.3" y="21.41" width="14" height="5.18" fill="#1f7dc4" stroke="none"/><path d="M45.3,9.44L61.3,25.44M45.3,18.88L61.3,34.88" stroke="#000" stroke-width="0.85" fill="none"/></g><rect x="46.3" y="21.41" width="14" height="5.18" fill="none" stroke="#000" stroke-width="0.6"/>
<text x="65.9" y="26.38" font-size="7.0">InterFusion</text>
<clipPath id="caRANL28"><rect x="46.3" y="31.7" width="14" height="5.18"/></clipPath><g clip-path="url(#caRANL28)"><rect x="46.3" y="31.7" width="14" height="5.18" fill="#ff7f0e" stroke="none"/><g stroke="#000"><circle cx="44.32" cy="29.7" r="0.94" fill="none" stroke-width="0.85"/><circle cx="49.04" cy="29.7" r="0.94" fill="none" stroke-width="0.85"/><circle cx="53.76" cy="29.7" r="0.94" fill="none" stroke-width="0.85"/><circle cx="58.48" cy="29.7" r="0.94" fill="none" stroke-width="0.85"/><circle cx="46.68" cy="34.42" r="0.94" fill="none" stroke-width="0.85"/><circle cx="51.4" cy="34.42" r="0.94" fill="none" stroke-width="0.85"/><circle cx="56.12" cy="34.42" r="0.94" fill="none" stroke-width="0.85"/><circle cx="60.84" cy="34.42" r="0.94" fill="none" stroke-width="0.85"/><circle cx="44.32" cy="39.14" r="0.94" fill="none" stroke-width="0.85"/><circle cx="49.04" cy="39.14" r="0.94" fill="none" stroke-width="0.85"/><circle cx="53.76" cy="39.14" r="0.94" fill="none" stroke-width="0.85"/><circle cx="58.48" cy="39.14" r="0.94" fill="none" stroke-width="0.85"/></g></g><rect x="46.3" y="31.7" width="14" height="5.18" fill="none" stroke="#000" stroke-width="0.6"/>
<text x="65.9" y="36.67" font-size="7.0">RANSynCoder</text>
<clipPath id="caGDNL30"><rect x="46.3" y="41.99" width="14" height="5.18"/></clipPath><g clip-path="url(#caGDNL30)"><rect x="46.3" y="41.99" width="14" height="5.18" fill="#2eaa2e" stroke="none"/><g stroke="#000"><circle cx="46.68" cy="43.86" r="1.65" fill="none" stroke-width="0.59"/><circle cx="46.68" cy="43.86" r="0.47" fill="#000" stroke-width="0.59"/><circle cx="51.4" cy="43.86" r="1.65" fill="none" stroke-width="0.59"/><circle cx="51.4" cy="43.86" r="0.47" fill="#000" stroke-width="0.59"/><circle cx="56.12" cy="43.86" r="1.65" fill="none" stroke-width="0.59"/><circle cx="56.12" cy="43.86" r="0.47" fill="#000" stroke-width="0.59"/><circle cx="60.84" cy="43.86" r="1.65" fill="none" stroke-width="0.59"/><circle cx="60.84" cy="43.86" r="0.47" fill="#000" stroke-width="0.59"/><circle cx="44.32" cy="48.58" r="1.65" fill="none" stroke-width="0.59"/><circle cx="44.32" cy="48.58" r="0.47" fill="#000" stroke-width="0.59"/><circle cx="49.04" cy="48.58" r="1.65" fill="none" stroke-width="0.59"/><circle cx="49.04" cy="48.58" r="0.47" fill="#000" stroke-width="0.59"/><circle cx="53.76" cy="48.58" r="1.65" fill="none" stroke-width="0.59"/><circle cx="53.76" cy="48.58" r="0.47" fill="#000" stroke-width="0.59"/><circle cx="58.48" cy="48.58" r="1.65" fill="none" stroke-width="0.59"/><circle cx="58.48" cy="48.58" r="0.47" fill="#000" stroke-width="0.59"/></g></g><rect x="46.3" y="41.99" width="14" height="5.18" fill="none" stroke="#000" stroke-width="0.6"/>
<text x="65.9" y="46.96" font-size="7.0">GDN</text>
<clipPath id="caLSTML32"><rect x="46.3" y="52.28" width="14" height="5.18"/></clipPath><g clip-path="url(#caLSTML32)"><rect x="46.3" y="52.28" width="14" height="5.18" fill="url(#gra)" stroke="none"/></g><rect x="46.3" y="52.28" width="14" height="5.18" fill="none" stroke="#000" stroke-width="0.6"/>
<text x="65.9" y="57.25" font-size="7.0">LSTM-ED</text>
<clipPath id="caUSADL34"><rect x="46.3" y="62.57" width="14" height="5.18"/></clipPath><g clip-path="url(#caUSADL34)"><rect x="46.3" y="62.57" width="14" height="5.18" fill="#9467bd" stroke="none"/><g stroke="#000"><circle cx="46.68" cy="62.74" r="0.66" fill="#000" stroke-width="0.85"/><circle cx="51.4" cy="62.74" r="0.66" fill="#000" stroke-width="0.85"/><circle cx="56.12" cy="62.74" r="0.66" fill="#000" stroke-width="0.85"/><circle cx="60.84" cy="62.74" r="0.66" fill="#000" stroke-width="0.85"/><circle cx="44.32" cy="67.46" r="0.66" fill="#000" stroke-width="0.85"/><circle cx="49.04" cy="67.46" r="0.66" fill="#000" stroke-width="0.85"/><circle cx="53.76" cy="67.46" r="0.66" fill="#000" stroke-width="0.85"/><circle cx="58.48" cy="67.46" r="0.66" fill="#000" stroke-width="0.85"/></g></g><rect x="46.3" y="62.57" width="14" height="5.18" fill="none" stroke="#000" stroke-width="0.6"/>
<text x="65.9" y="67.54" font-size="7.0">USAD</text>
</g>
<text x="145.3" y="235.7" font-family="'Liberation Serif', 'DejaVu Serif', serif" font-size="13" text-anchor="middle" fill="#151515" stroke="#151515" stroke-width="0.12" letter-spacing="-0.2">(<tspan font-weight="bold">a</tspan>) SWaT</text>
<defs><linearGradient id="grb" gradientUnits="userSpaceOnUse" spreadMethod="repeat" x1="6" y1="8.6" x2="7.0500" y2="9.6500"><stop offset="0.0000" stop-color="#180303"/><stop offset="0.0625" stop-color="#210404"/><stop offset="0.1250" stop-color="#3b0707"/><stop offset="0.1875" stop-color="#610b0b"/><stop offset="0.2500" stop-color="#8e1010"/><stop offset="0.3125" stop-color="#ba1515"/><stop offset="0.3750" stop-color="#e01a1a"/><stop offset="0.4375" stop-color="#f41c1c"/><stop offset="0.5000" stop-color="#f41c1c"/><stop offset="0.5625" stop-color="#f41c1c"/><stop offset="0.6250" stop-color="#e01a1a"/><stop offset="0.6875" stop-color="#ba1515"/><stop offset="0.7500" stop-color="#8e1010"/><stop offset="0.8125" stop-color="#610b0b"/><stop offset="0.8750" stop-color="#3b0707"/><stop offset="0.9375" stop-color="#210404"/><stop offset="1.0000" stop-color="#180303"/></linearGradient></defs>
<g font-family="'DejaVu Sans', 'Liberation Sans', sans-serif" fill="#111" stroke="#111" stroke-width="0.27">
<path d="M344.67,15.2V188.5M386.54,15.2V188.5M428.42,15.2V188.5M470.29,15.2V188.5M512.17,15.2V188.5M325.3,188.4H544.1M325.3,157.74H544.1M325.3,127.08H544.1M325.3,96.42H544.1M325.3,65.76H544.1M325.3,35.1H544.1" stroke="#dcdcdc" stroke-width="0.9" fill="none"/>
<rect x="325.3" y="15.2" width="218.8" height="173.3" fill="none" stroke="#b0b0b0" stroke-width="1"/>
<clipPath id="cbIF4"><rect x="335.25" y="158.05" width="6.28" height="30.35"/><rect x="377.12" y="127.08" width="6.28" height="61.32"/><rect x="419" y="94.12" width="6.28" height="94.28"/><rect x="460.87" y="62.69" width="6.28" height="125.71"/><rect x="502.75" y="23.83" width="6.28" height="164.57"/></clipPath><g clip-path="url(#cbIF4)"><rect x="335.25" y="158.05" width="6.28" height="30.35" fill="#1f7dc4" stroke="none"/><rect x="377.12" y="127.08" width="6.28" height="61.32" fill="#1f7dc4" stroke="none"/><rect x="419" y="94.12" width="6.28" height="94.28" fill="#1f7dc4" stroke="none"/><rect x="460.87" y="62.69" width="6.28" height="125.71" fill="#1f7dc4" stroke="none"/><rect x="502.75" y="23.83" width="6.28" height="164.57" fill="#1f7dc4" stroke="none"/><path d="M334.25,152.05L342.53,160.33M334.25,160.45L342.53,168.73M334.25,168.85L342.53,177.13M334.25,177.25L342.53,185.53M334.25,185.65L342.53,193.93M376.12,126.72L384.4,135M376.12,135.12L384.4,143.4M376.12,143.52L384.4,151.8M376.12,151.92L384.4,160.2M376.12,160.32L384.4,168.6M376.12,168.72L384.4,177M376.12,177.12L384.4,185.4M376.12,185.52L384.4,193.8M418,93L426.28,101.28M418,101.4L426.28,109.68M418,109.8L426.28,118.08M418,118.2L426.28,126.48M418,126.6L426.28,134.88M418,135L426.28,143.28M418,143.4L426.28,151.68M418,151.8L426.28,160.08M418,160.2L426.28,168.48M418,168.6L426.28,176.88M418,177L426.28,185.28M418,185.4L426.28,193.68M459.87,59.27L468.15,67.55M459.87,67.67L468.15,75.95M459.87,76.07L468.15,84.35M459.87,84.47L468.15,92.75M459.87,92.87L468.15,101.15M459.87,101.27L468.15,109.55M459.87,109.67L468.15,117.95M459.87,118.07L468.15,126.35M459.87,126.47L468.15,134.75M459.87,134.87L468.15,143.15M459.87,143.27L468.15,151.55M459.87,151.67L468.15,159.95M459.87,160.07L468.15,168.35M459.87,168.47L468.15,176.75M459.87,176.87L468.15,185.15M459.87,185.27L468.15,193.55M501.75,17.15L510.03,25.43M501.75,25.55L510.03,33.83M501.75,33.95L510.03,42.23M501.75,42.35L510.03,50.63M501.75,50.75L510.03,59.03M501.75,59.15L510.03,67.43M501.75,67.55L510.03,75.83M501.75,75.95L510.03,84.23M501.75,84.35L510.03,92.63M501.75,92.75L510.03,101.03M501.75,101.15L510.03,109.43M501.75,109.55L510.03,117.83M501.75,117.95L510.03,126.23M501.75,126.35L510.03,134.63M501.75,134.75L510.03,143.03M501.75,143.15L510.03,151.43M501.75,151.55L510.03,159.83M501.75,159.95L510.03,168.23M501.75,168.35L510.03,176.63M501.75,176.75L510.03,185.03M501.75,185.15L510.03,193.43" stroke="#000" stroke-width="0.76" fill="none"/></g><rect x="335.25" y="158.05" width="6.28" height="30.35" fill="none" stroke="#000" stroke-width="0.5"/><rect x="377.12" y="127.08" width="6.28" height="61.32" fill="none" stroke="#000" stroke-width="0.5"/><rect x="419" y="94.12" width="6.28" height="94.28" fill="none" stroke="#000" stroke-width="0.5"/><rect x="460.87" y="62.69" width="6.28" height="125.71" fill="none" stroke="#000" stroke-width="0.5"/><rect x="502.75" y="23.83" width="6.28" height="164.57" fill="none" stroke="#000" stroke-width="0.5"/>
<clipPath id="cbRAN5"><rect x="341.53" y="184.87" width="6.28" height="3.53"/><rect x="383.4" y="181.81" width="6.28" height="6.59"/><rect x="425.28" y="177.82" width="6.28" height="10.58"/><rect x="467.15" y="174.6" width="6.28" height="13.8"/><rect x="509.03" y="170.57" width="6.28" height="17.83"/></clipPath><g clip-path="url(#cbRAN5)"><rect x="341.53" y="184.87" width="6.28" height="3.53" fill="#ff7f0e" stroke="none"/><rect x="383.4" y="181.81" width="6.28" height="6.59" fill="#ff7f0e" stroke="none"/><rect x="425.28" y="177.82" width="6.28" height="10.58" fill="#ff7f0e" stroke="none"/><rect x="467.15" y="174.6" width="6.28" height="13.8" fill="#ff7f0e" stroke="none"/><rect x="509.03" y="170.57" width="6.28" height="17.83" fill="#ff7f0e" stroke="none"/><g stroke="#000"><circle cx="342" cy="185" r="0.84" fill="none" stroke-width="0.76"/><circle cx="346.2" cy="185" r="0.84" fill="none" stroke-width="0.76"/><circle cx="339.9" cy="189.2" r="0.84" fill="none" stroke-width="0.76"/><circle cx="344.1" cy="189.2" r="0.84" fill="none" stroke-width="0.76"/><circle cx="348.3" cy="189.2" r="0.84" fill="none" stroke-width="0.76"/><circle cx="381.9" cy="180.8" r="0.84" fill="none" stroke-width="0.76"/><circle cx="386.1" cy="180.8" r="0.84" fill="none" stroke-width="0.76"/><circle cx="390.3" cy="180.8" r="0.84" fill="none" stroke-width="0.76"/><circle cx="384" cy="185" r="0.84" fill="none" stroke-width="0.76"/><circle cx="388.2" cy="185" r="0.84" fill="none" stroke-width="0.76"/><circle cx="381.9" cy="189.2" r="0.84" fill="none" stroke-width="0.76"/><circle cx="386.1" cy="189.2" r="0.84" fill="none" stroke-width="0.76"/><circle cx="390.3" cy="189.2" r="0.84" fill="none" stroke-width="0.76"/><circle cx="426" cy="176.6" r="0.84" fill="none" stroke-width="0.76"/><circle cx="430.2" cy="176.6" r="0.84" fill="none" stroke-width="0.76"/><circle cx="423.9" cy="180.8" r="0.84" fill="none" stroke-width="0.76"/><circle cx="428.1" cy="180.8" r="0.84" fill="none" stroke-width="0.76"/><circle cx="432.3" cy="180.8" r="0.84" fill="none" stroke-width="0.76"/><circle cx="426" cy="185" r="0.84" fill="none" stroke-width="0.76"/><circle cx="430.2" cy="185" r="0.84" fill="none" stroke-width="0.76"/><circle cx="423.9" cy="189.2" r="0.84" fill="none" stroke-width="0.76"/><circle cx="428.1" cy="189.2" r="0.84" fill="none" stroke-width="0.76"/><circle cx="432.3" cy="189.2" r="0.84" fill="none" stroke-width="0.76"/><circle cx="465.9" cy="172.4" r="0.84" fill="none" stroke-width="0.76"/><circle cx="470.1" cy="172.4" r="0.84" fill="none" stroke-width="0.76"/><circle cx="474.3" cy="172.4" r="0.84" fill="none" stroke-width="0.76"/><circle cx="468" cy="176.6" r="0.84" fill="none" stroke-width="0.76"/><circle cx="472.2" cy="176.6" r="0.84" fill="none" stroke-width="0.76"/><circle cx="465.9" cy="180.8" r="0.84" fill="none" stroke-width="0.76"/><circle cx="470.1" cy="180.8" r="0.84" fill="none" stroke-width="0.76"/><circle cx="474.3" cy="180.8" r="0.84" fill="none" stroke-width="0.76"/><circle cx="468" cy="185" r="0.84" fill="none" stroke-width="0.76"/><circle cx="472.2" cy="185" r="0.84" fill="none" stroke-width="0.76"/><circle cx="465.9" cy="189.2" r="0.84" fill="none" stroke-width="0.76"/><circle cx="470.1" cy="189.2" r="0.84" fill="none" stroke-width="0.76"/><circle cx="474.3" cy="189.2" r="0.84" fill="none" stroke-width="0.76"/><circle cx="510" cy="168.2" r="0.84" fill="none" stroke-width="0.76"/><circle cx="514.2" cy="168.2" r="0.84" fill="none" stroke-width="0.76"/><circle cx="507.9" cy="172.4" r="0.84" fill="none" stroke-width="0.76"/><circle cx="512.1" cy="172.4" r="0.84" fill="none" stroke-width="0.76"/><circle cx="516.3" cy="172.4" r="0.84" fill="none" stroke-width="0.76"/><circle cx="510" cy="176.6" r="0.84" fill="none" stroke-width="0.76"/><circle cx="514.2" cy="176.6" r="0.84" fill="none" stroke-width="0.76"/><circle cx="507.9" cy="180.8" r="0.84" fill="none" stroke-width="0.76"/><circle cx="512.1" cy="180.8" r="0.84" fill="none" stroke-width="0.76"/><circle cx="516.3" cy="180.8" r="0.84" fill="none" stroke-width="0.76"/><circle cx="510" cy="185" r="0.84" fill="none" stroke-width="0.76"/><circle cx="514.2" cy="185" r="0.84" fill="none" stroke-width="0.76"/><circle cx="507.9" cy="189.2" r="0.84" fill="none" stroke-width="0.76"/><circle cx="512.1" cy="189.2" r="0.84" fill="none" stroke-width="0.76"/><circle cx="516.3" cy="189.2" r="0.84" fill="none" stroke-width="0.76"/></g></g><rect x="341.53" y="184.87" width="6.28" height="3.53" fill="none" stroke="#000" stroke-width="0.5"/><rect x="383.4" y="181.81" width="6.28" height="6.59" fill="none" stroke="#000" stroke-width="0.5"/><rect x="425.28" y="177.82" width="6.28" height="10.58" fill="none" stroke="#000" stroke-width="0.5"/><rect x="467.15" y="174.6" width="6.28" height="13.8" fill="none" stroke="#000" stroke-width="0.5"/><rect x="509.03" y="170.57" width="6.28" height="17.83" fill="none" stroke="#000" stroke-width="0.5"/>
<clipPath id="cbGDN6"><rect x="347.81" y="187.48" width="6.28" height="0.92"/><rect x="389.68" y="186.79" width="6.28" height="1.61"/><rect x="431.56" y="185.33" width="6.28" height="3.07"/><rect x="473.43" y="184.57" width="6.28" height="3.83"/><rect x="515.31" y="184.26" width="6.28" height="4.14"/></clipPath><g clip-path="url(#cbGDN6)"><rect x="347.81" y="187.48" width="6.28" height="0.92" fill="#2eaa2e" stroke="none"/><rect x="389.68" y="186.79" width="6.28" height="1.61" fill="#2eaa2e" stroke="none"/><rect x="431.56" y="185.33" width="6.28" height="3.07" fill="#2eaa2e" stroke="none"/><rect x="473.43" y="184.57" width="6.28" height="3.83" fill="#2eaa2e" stroke="none"/><rect x="515.31" y="184.26" width="6.28" height="4.14" fill="#2eaa2e" stroke="none"/><g stroke="#000"><circle cx="348.3" cy="189.2" r="1.47" fill="none" stroke-width="0.53"/><circle cx="348.3" cy="189.2" r="0.42" fill="#000" stroke-width="0.53"/><circle cx="352.5" cy="189.2" r="1.47" fill="none" stroke-width="0.53"/><circle cx="352.5" cy="189.2" r="0.42" fill="#000" stroke-width="0.53"/><circle cx="388.2" cy="185" r="1.47" fill="none" stroke-width="0.53"/><circle cx="388.2" cy="185" r="0.42" fill="#000" stroke-width="0.53"/><circle cx="392.4" cy="185" r="1.47" fill="none" stroke-width="0.53"/><circle cx="392.4" cy="185" r="0.42" fill="#000" stroke-width="0.53"/><circle cx="396.6" cy="185" r="1.47" fill="none" stroke-width="0.53"/><circle cx="396.6" cy="185" r="0.42" fill="#000" stroke-width="0.53"/><circle cx="390.3" cy="189.2" r="1.47" fill="none" stroke-width="0.53"/><circle cx="390.3" cy="189.2" r="0.42" fill="#000" stroke-width="0.53"/><circle cx="394.5" cy="189.2" r="1.47" fill="none" stroke-width="0.53"/><circle cx="394.5" cy="189.2" r="0.42" fill="#000" stroke-width="0.53"/><circle cx="430.2" cy="185" r="1.47" fill="none" stroke-width="0.53"/><circle cx="430.2" cy="185" r="0.42" fill="#000" stroke-width="0.53"/><circle cx="434.4" cy="185" r="1.47" fill="none" stroke-width="0.53"/><circle cx="434.4" cy="185" r="0.42" fill="#000" stroke-width="0.53"/><circle cx="438.6" cy="185" r="1.47" fill="none" stroke-width="0.53"/><circle cx="438.6" cy="185" r="0.42" fill="#000" stroke-width="0.53"/><circle cx="432.3" cy="189.2" r="1.47" fill="none" stroke-width="0.53"/><circle cx="432.3" cy="189.2" r="0.42" fill="#000" stroke-width="0.53"/><circle cx="436.5" cy="189.2" r="1.47" fill="none" stroke-width="0.53"/><circle cx="436.5" cy="189.2" r="0.42" fill="#000" stroke-width="0.53"/><circle cx="472.2" cy="185" r="1.47" fill="none" stroke-width="0.53"/><circle cx="472.2" cy="185" r="0.42" fill="#000" stroke-width="0.53"/><circle cx="476.4" cy="185" r="1.47" fill="none" stroke-width="0.53"/><circle cx="476.4" cy="185" r="0.42" fill="#000" stroke-width="0.53"/><circle cx="480.6" cy="185" r="1.47" fill="none" stroke-width="0.53"/><circle cx="480.6" cy="185" r="0.42" fill="#000" stroke-width="0.53"/><circle cx="474.3" cy="189.2" r="1.47" fill="none" stroke-width="0.53"/><circle cx="474.3" cy="189.2" r="0.42" fill="#000" stroke-width="0.53"/><circle cx="478.5" cy="189.2" r="1.47" fill="none" stroke-width="0.53"/><circle cx="478.5" cy="189.2" r="0.42" fill="#000" stroke-width="0.53"/><circle cx="514.2" cy="185" r="1.47" fill="none" stroke-width="0.53"/><circle cx="514.2" cy="185" r="0.42" fill="#000" stroke-width="0.53"/><circle cx="518.4" cy="185" r="1.47" fill="none" stroke-width="0.53"/><circle cx="518.4" cy="185" r="0.42" fill="#000" stroke-width="0.53"/><circle cx="522.6" cy="185" r="1.47" fill="none" stroke-width="0.53"/><circle cx="522.6" cy="185" r="0.42" fill="#000" stroke-width="0.53"/><circle cx="516.3" cy="189.2" r="1.47" fill="none" stroke-width="0.53"/><circle cx="516.3" cy="189.2" r="0.42" fill="#000" stroke-width="0.53"/><circle cx="520.5" cy="189.2" r="1.47" fill="none" stroke-width="0.53"/><circle cx="520.5" cy="189.2" r="0.42" fill="#000" stroke-width="0.53"/></g></g><rect x="347.81" y="187.48" width="6.28" height="0.92" fill="none" stroke="#000" stroke-width="0.5"/><rect x="389.68" y="186.79" width="6.28" height="1.61" fill="none" stroke="#000" stroke-width="0.5"/><rect x="431.56" y="185.33" width="6.28" height="3.07" fill="none" stroke="#000" stroke-width="0.5"/><rect x="473.43" y="184.57" width="6.28" height="3.83" fill="none" stroke="#000" stroke-width="0.5"/><rect x="515.31" y="184.26" width="6.28" height="4.14" fill="none" stroke="#000" stroke-width="0.5"/>
<clipPath id="cbLSTM7"><rect x="354.09" y="187.94" width="6.28" height="0.46"/><rect x="395.97" y="187.56" width="6.28" height="0.84"/><rect x="437.84" y="187.1" width="6.28" height="1.3"/><rect x="479.72" y="186.64" width="6.28" height="1.76"/><rect x="521.59" y="186.18" width="6.28" height="2.22"/></clipPath><g clip-path="url(#cbLSTM7)"><rect x="354.09" y="187.94" width="6.28" height="0.46" fill="url(#grb)" stroke="none"/><rect x="395.97" y="187.56" width="6.28" height="0.84" fill="url(#grb)" stroke="none"/><rect x="437.84" y="187.1" width="6.28" height="1.3" fill="url(#grb)" stroke="none"/><rect x="479.72" y="186.64" width="6.28" height="1.76" fill="url(#grb)" stroke="none"/><rect x="521.59" y="186.18" width="6.28" height="2.22" fill="url(#grb)" stroke="none"/></g><rect x="354.09" y="187.94" width="6.28" height="0.46" fill="none" stroke="#000" stroke-width="0.5"/><rect x="395.97" y="187.56" width="6.28" height="0.84" fill="none" stroke="#000" stroke-width="0.5"/><rect x="437.84" y="187.1" width="6.28" height="1.3" fill="none" stroke="#000" stroke-width="0.5"/><rect x="479.72" y="186.64" width="6.28" height="1.76" fill="none" stroke="#000" stroke-width="0.5"/><rect x="521.59" y="186.18" width="6.28" height="2.22" fill="none" stroke="#000" stroke-width="0.5"/>
<clipPath id="cbUSAD8"><rect x="360.37" y="188.02" width="6.28" height="0.38"/><rect x="402.25" y="187.79" width="6.28" height="0.61"/><rect x="444.12" y="187.56" width="6.28" height="0.84"/><rect x="486" y="187.4" width="6.28" height="1"/><rect x="527.87" y="187.4" width="6.28" height="1"/></clipPath><g clip-path="url(#cbUSAD8)"><rect x="360.37" y="188.02" width="6.28" height="0.38" fill="#9467bd" stroke="none"/><rect x="402.25" y="187.79" width="6.28" height="0.61" fill="#9467bd" stroke="none"/><rect x="444.12" y="187.56" width="6.28" height="0.84" fill="#9467bd" stroke="none"/><rect x="486" y="187.4" width="6.28" height="1" fill="#9467bd" stroke="none"/><rect x="527.87" y="187.4" width="6.28" height="1" fill="#9467bd" stroke="none"/><g stroke="#000"><circle cx="360.9" cy="189.2" r="0.59" fill="#000" stroke-width="0.76"/><circle cx="365.1" cy="189.2" r="0.59" fill="#000" stroke-width="0.76"/><circle cx="402.9" cy="189.2" r="0.59" fill="#000" stroke-width="0.76"/><circle cx="407.1" cy="189.2" r="0.59" fill="#000" stroke-width="0.76"/><circle cx="444.9" cy="189.2" r="0.59" fill="#000" stroke-width="0.76"/><circle cx="449.1" cy="189.2" r="0.59" fill="#000" stroke-width="0.76"/><circle cx="484.8" cy="185" r="0.59" fill="#000" stroke-width="0.76"/><circle cx="489" cy="185" r="0.59" fill="#000" stroke-width="0.76"/><circle cx="493.2" cy="185" r="0.59" fill="#000" stroke-width="0.76"/><circle cx="486.9" cy="189.2" r="0.59" fill="#000" stroke-width="0.76"/><circle cx="491.1" cy="189.2" r="0.59" fill="#000" stroke-width="0.76"/><circle cx="526.8" cy="185" r="0.59" fill="#000" stroke-width="0.76"/><circle cx="531" cy="185" r="0.59" fill="#000" stroke-width="0.76"/><circle cx="535.2" cy="185" r="0.59" fill="#000" stroke-width="0.76"/><circle cx="528.9" cy="189.2" r="0.59" fill="#000" stroke-width="0.76"/><circle cx="533.1" cy="189.2" r="0.59" fill="#000" stroke-width="0.76"/></g></g><rect x="360.37" y="188.02" width="6.28" height="0.38" fill="none" stroke="#000" stroke-width="0.5"/><rect x="402.25" y="187.79" width="6.28" height="0.61" fill="none" stroke="#000" stroke-width="0.5"/><rect x="444.12" y="187.56" width="6.28" height="0.84" fill="none" stroke="#000" stroke-width="0.5"/><rect x="486" y="187.4" width="6.28" height="1" fill="none" stroke="#000" stroke-width="0.5"/><rect x="527.87" y="187.4" width="6.28" height="1" fill="none" stroke="#000" stroke-width="0.5"/>
<path d="M344.67,188.5v1.6M386.54,188.5v1.6M428.42,188.5v1.6M470.29,188.5v1.6M512.17,188.5v1.6M325.3,188.4h-1.6M325.3,157.74h-1.6M325.3,127.08h-1.6M325.3,96.42h-1.6M325.3,65.76h-1.6M325.3,35.1h-1.6" stroke="#b0b0b0" stroke-width="0.9" fill="none"/>
<text x="344.67" y="195.8" font-size="6.3" text-anchor="middle">20</text>
<text x="386.54" y="195.8" font-size="6.3" text-anchor="middle">40</text>
<text x="428.42" y="195.8" font-size="6.3" text-anchor="middle">60</text>
<text x="470.29" y="195.8" font-size="6.3" text-anchor="middle">80</text>
<text x="512.17" y="195.8" font-size="6.3" text-anchor="middle">100</text>
<text x="323.2" y="190.84" font-size="5.6" text-anchor="end">0</text>
<text x="323.2" y="160.18" font-size="5.6" text-anchor="end">20,000</text>
<text x="323.2" y="129.52" font-size="5.6" text-anchor="end">40,000</text>
<text x="323.2" y="98.86" font-size="5.6" text-anchor="end">60,000</text>
<text x="323.2" y="68.2" font-size="5.6" text-anchor="end">80,000</text>
<text x="323.2" y="37.54" font-size="5.6" text-anchor="end">100,000</text>
<text x="434.7" y="204.1" font-size="8.0" text-anchor="middle">Data split (%)</text>
<text transform="translate(297 102.15) rotate(-90)" font-size="8.0" text-anchor="middle">Time (seconds)</text>
<rect x="328.3" y="18.2" width="63.11" height="46.08" rx="1.4" fill="#fff" fill-opacity="0.8" stroke="#d4d4d4" stroke-width="0.8"/>
<clipPath id="cbIFL24"><rect x="330.7" y="20.68" width="12" height="4.44"/></clipPath><g clip-path="url(#cbIFL24)"><rect x="330.7" y="20.68" width="12" height="4.44" fill="#1f7dc4" stroke="none"/><path d="M329.7,13.1L343.7,27.1M329.7,21.5L343.7,35.5" stroke="#000" stroke-width="0.76" fill="none"/></g><rect x="330.7" y="20.68" width="12" height="4.44" fill="none" stroke="#000" stroke-width="0.5"/>
<text x="347.5" y="25.34" font-size="6.0">InterFusion</text>
<clipPath id="cbRANL26"><rect x="330.7" y="29.5" width="12" height="4.44"/></clipPath><g clip-path="url(#cbRANL26)"><rect x="330.7" y="29.5" width="12" height="4.44" fill="#ff7f0e" stroke="none"/><g stroke="#000"><circle cx="331.5" cy="29.6" r="0.84" fill="none" stroke-width="0.76"/><circle cx="335.7" cy="29.6" r="0.84" fill="none" stroke-width="0.76"/><circle cx="339.9" cy="29.6" r="0.84" fill="none" stroke-width="0.76"/><circle cx="344.1" cy="29.6" r="0.84" fill="none" stroke-width="0.76"/><circle cx="329.4" cy="33.8" r="0.84" fill="none" stroke-width="0.76"/><circle cx="333.6" cy="33.8" r="0.84" fill="none" stroke-width="0.76"/><circle cx="337.8" cy="33.8" r="0.84" fill="none" stroke-width="0.76"/><circle cx="342" cy="33.8" r="0.84" fill="none" stroke-width="0.76"/></g></g><rect x="330.7" y="29.5" width="12" height="4.44" fill="none" stroke="#000" stroke-width="0.5"/>
<text x="347.5" y="34.16" font-size="6.0">RANSynCoder</text>
<clipPath id="cbGDNL28"><rect x="330.7" y="38.32" width="12" height="4.44"/></clipPath><g clip-path="url(#cbGDNL28)"><rect x="330.7" y="38.32" width="12" height="4.44" fill="#2eaa2e" stroke="none"/><g stroke="#000"><circle cx="331.5" cy="38" r="1.47" fill="none" stroke-width="0.53"/><circle cx="331.5" cy="38" r="0.42" fill="#000" stroke-width="0.53"/><circle cx="335.7" cy="38" r="1.47" fill="none" stroke-width="0.53"/><circle cx="335.7" cy="38" r="0.42" fill="#000" stroke-width="0.53"/><circle cx="339.9" cy="38" r="1.47" fill="none" stroke-width="0.53"/><circle cx="339.9" cy="38" r="0.42" fill="#000" stroke-width="0.53"/><circle cx="344.1" cy="38" r="1.47" fill="none" stroke-width="0.53"/><circle cx="344.1" cy="38" r="0.42" fill="#000" stroke-width="0.53"/><circle cx="329.4" cy="42.2" r="1.47" fill="none" stroke-width="0.53"/><circle cx="329.4" cy="42.2" r="0.42" fill="#000" stroke-width="0.53"/><circle cx="333.6" cy="42.2" r="1.47" fill="none" stroke-width="0.53"/><circle cx="333.6" cy="42.2" r="0.42" fill="#000" stroke-width="0.53"/><circle cx="337.8" cy="42.2" r="1.47" fill="none" stroke-width="0.53"/><circle cx="337.8" cy="42.2" r="0.42" fill="#000" stroke-width="0.53"/><circle cx="342" cy="42.2" r="1.47" fill="none" stroke-width="0.53"/><circle cx="342" cy="42.2" r="0.42" fill="#000" stroke-width="0.53"/></g></g><rect x="330.7" y="38.32" width="12" height="4.44" fill="none" stroke="#000" stroke-width="0.5"/>
<text x="347.5" y="42.98" font-size="6.0">GDN</text>
<clipPath id="cbLSTML30"><rect x="330.7" y="47.14" width="12" height="4.44"/></clipPath><g clip-path="url(#cbLSTML30)"><rect x="330.7" y="47.14" width="12" height="4.44" fill="url(#grb)" stroke="none"/></g><rect x="330.7" y="47.14" width="12" height="4.44" fill="none" stroke="#000" stroke-width="0.5"/>
<text x="347.5" y="51.8" font-size="6.0">LSTM-ED</text>
<clipPath id="cbUSADL32"><rect x="330.7" y="55.96" width="12" height="4.44"/></clipPath><g clip-path="url(#cbUSADL32)"><rect x="330.7" y="55.96" width="12" height="4.44" fill="#9467bd" stroke="none"/><g stroke="#000"><circle cx="331.5" cy="54.8" r="0.59" fill="#000" stroke-width="0.76"/><circle cx="335.7" cy="54.8" r="0.59" fill="#000" stroke-width="0.76"/><circle cx="339.9" cy="54.8" r="0.59" fill="#000" stroke-width="0.76"/><circle cx="344.1" cy="54.8" r="0.59" fill="#000" stroke-width="0.76"/><circle cx="329.4" cy="59" r="0.59" fill="#000" stroke-width="0.76"/><circle cx="333.6" cy="59" r="0.59" fill="#000" stroke-width="0.76"/><circle cx="337.8" cy="59" r="0.59" fill="#000" stroke-width="0.76"/><circle cx="342" cy="59" r="0.59" fill="#000" stroke-width="0.76"/></g></g><rect x="330.7" y="55.96" width="12" height="4.44" fill="none" stroke="#000" stroke-width="0.5"/>
<text x="347.5" y="60.62" font-size="6.0">USAD</text>
</g>
<text x="430.6" y="235.7" font-family="'Liberation Serif', 'DejaVu Serif', serif" font-size="13" text-anchor="middle" fill="#151515" stroke="#151515" stroke-width="0.12" letter-spacing="0.3">(<tspan font-weight="bold">b</tspan>) HAI</text>
</svg>
</body></html>
